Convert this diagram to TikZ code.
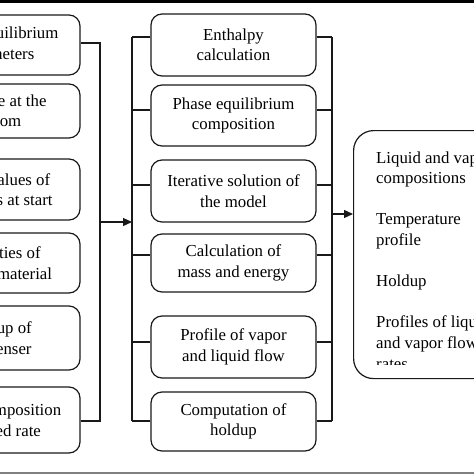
\documentclass[tikz,border=0pt]{standalone}
\usepackage{fontspec}
\setmainfont{Liberation Serif}
\usetikzlibrary{arrows.meta,calc}
\begin{document}
\begin{tikzpicture}[x=1pt,y=-1pt,
  box/.style={draw=black!90, line width=1.2pt, rounded corners=11pt, minimum width=165pt, align=center, font=\fontsize{16.8}{20.5}\selectfont, inner sep=0pt},
  wire/.style={draw=black!90, line width=1.2pt},
  arr/.style={wire, -{Triangle[length=9pt,width=8pt]}},
  item/.style={anchor=base west, align=left, font=\fontsize{16.8}{20.6}\selectfont, inner sep=0pt}]
\useasboundingbox (0,0) rectangle (474,474);
\clip (0,0) rectangle (474,474);
\fill[white] (0,0) rectangle (474,474);
\fill[black] (0,0) rectangle (474,3);
\fill[black!50] (0,471.5) rectangle (474,474);
% left column
\node[box, minimum height=60pt] (l1) at (-2.5,45) {Phase equilibrium\\parameters};
\node[box, minimum height=54pt] (l2) at (-2.5,111) {Pressure at the\\bottom};
\node[box, minimum height=61pt] (l3) at (-2.5,189.5) {Initial values of\\variables at start};
\node[box, minimum height=60pt] (l4) at (-2.5,263) {Properties of\\the raw material};
\node[box, minimum height=64pt] (l5) at (-2.5,338) {Holdup of\\condenser};
\node[box, minimum height=66pt] (l6) at (-2.5,420) {Initial composition\\and feed rate};
% middle column
\node[box, minimum height=62pt] (m1) at (233.5,45) {Enthalpy\\calculation};
\node[box, minimum height=61pt] (m2) at (233.5,115.5) {Phase equilibrium\\composition};
\node[box, minimum height=62pt] (m3) at (233.5,191) {Iterative solution of\\the model};
\node[box, minimum height=58pt] (m4) at (233.5,263) {Calculation of\\mass and energy};
\node[box, minimum height=62pt] (m5) at (233.5,347) {Profile of vapor\\and liquid flow};
\node[box, minimum height=59pt] (m6) at (233.5,421.5) {Computation of\\holdup};
% right box
\node[draw=black!90, line width=1.2pt, rounded corners=20pt, minimum width=170pt, minimum height=248pt, anchor=north west, inner sep=0pt] (out) at (353,130) {};
\begin{scope}
\clip (353,130) rectangle (474,364);
\node[item] (o1) at (376,183.6) {Liquid and vapor\\compositions};
\node[item] (o2) at (376,245.4) {Temperature\\profile};
\node[item] (o3) at (376,286.6) {Holdup};
\node[item] (o4) at (376,369) {Profiles of liquid\\and vapor flow\\rates};
\end{scope}
% left bracket
\coordinate (lbt) at (100,43);
\coordinate (lbb) at (100,421);
\coordinate (la) at (100,222);
\draw[wire] (l1.east |- lbt) -- (lbt) -- (lbb) -- (l6.east |- lbb);
% middle buses
\coordinate (mbt) at (132,37);
\coordinate (mbb) at (132,421);
\coordinate (rbt) at (332,37);
\coordinate (rbb) at (332,421);
\draw[wire] (mbt) -- (mbb);
\draw[wire] (rbt) -- (rbb);
\draw[arr] (la) -- (mbt |- la);
\foreach \n/\y in {m1/37, m2/110, m3/185, m4/255, m5/342, m6/421} {
  \draw[wire] (132,\y) -- (\n.west |- 0,\y);
  \draw[wire] (\n.east |- 0,\y) -- (332,\y);
}
\coordinate (ra) at (332,214);
\draw[arr] (ra) -- (out.west |- ra);
\end{tikzpicture}
\end{document}
